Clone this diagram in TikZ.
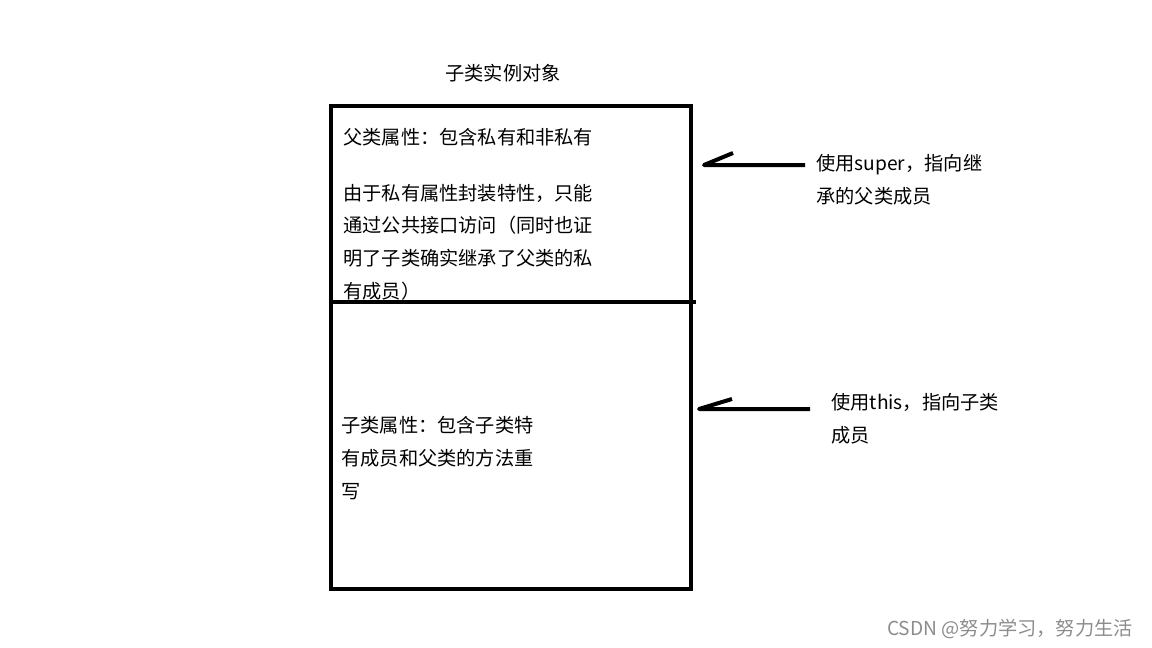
\documentclass[tikz,border=0pt]{standalone}
\usepackage{fontspec}
\setmainfont{Noto Sans CJK SC}
\begin{document}
\begin{tikzpicture}[x=0.5pt,y=-0.5pt,
  lbl/.style={anchor=west,inner sep=0pt,font=\fontsize{9.6}{16.3}\selectfont,align=left},
  thick line/.style={line width=2pt},
  hook/.style={line width=2pt,line join=round}]
\useasboundingbox (0,0) rectangle (1152,648);
\node[draw,thick line,minimum width=180pt,minimum height=241.5pt,anchor=north west,inner sep=0pt] (box) at (329,104) {};
\coordinate (dl) at (329,302);
\coordinate (dr) at (696,302);
\draw[thick line] (dl) -- (dr);
\node[inner sep=0pt,font=\fontsize{9.6}{11}\selectfont] (title) at (503,73) {子类实例对象};
\node[lbl] (t1) at (343,137) {父类属性：包含私有和非私有};
\node[lbl] (t2) at (343,242) {由于私有属性封装特性，只能\\通过公共接口访问（同时也证\\明了子类确实继承了父类的私\\有成员）};
\node[lbl] (t3) at (341,458) {子类属性：包含子类特\\有成员和父类的方法重\\写};
\node[lbl] (l1) at (816,180) {使用super，指向继\\承的父类成员};
\node[lbl] (l2) at (831,419) {使用this，指向子类\\成员};
\coordinate (a1s) at (805,165);
\coordinate (a1e) at (704,165);
\coordinate (a1h) at (733,153);
\draw[hook] (a1s) -- (a1e) -- (a1h);
\coordinate (a2s) at (810,409);
\coordinate (a2e) at (699,409);
\coordinate (a2h) at (732,399);
\draw[hook] (a2s) -- (a2e) -- (a2h);
\node[inner sep=0pt,text=black!45,font=\fontsize{9.6}{11}\selectfont] (wm) at (1010,629) {CSDN @努力学习，努力生活};
\end{tikzpicture}
\end{document}
